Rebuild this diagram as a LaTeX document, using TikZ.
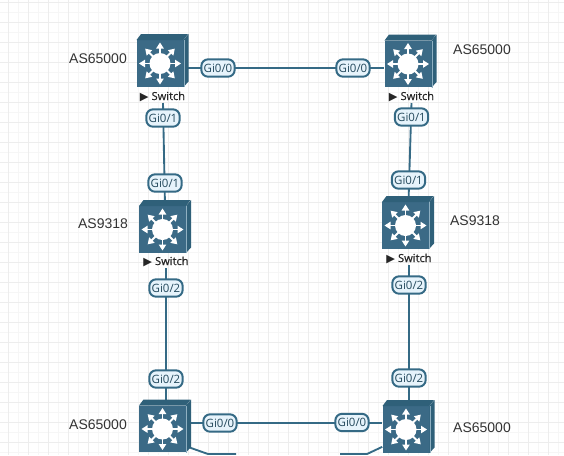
\documentclass[tikz,border=0pt]{standalone}
\usepackage{fontspec}
\setmainfont{Liberation Sans}
\newfontfamily\portfont{Open Sans}
\newfontfamily\swfont[FakeBold=0.6]{Open Sans}
\newfontfamily\symfont{DejaVu Sans}
\usepackage{tikz}
\usetikzlibrary{arrows.meta, backgrounds}
\definecolor{swblue}{HTML}{3B6A86}
\definecolor{swdark}{HTML}{2F6079}
\definecolor{swedge}{HTML}{8FB0C2}
\definecolor{linkblue}{HTML}{356A85}
\definecolor{portfill}{HTML}{E6F3FB}
\definecolor{gridminor}{HTML}{F6F6F6}
\definecolor{gridmajor}{HTML}{EDEDED}
\newcommand{\swlabel}{{\symfont\fontsize{8.5}{9}\selectfont ▶}\hspace{2.2pt}Switch}

\begin{document}
\begin{tikzpicture}[
  x=0.75pt, y=-0.75pt,
  swfront/.style={fill=swblue, minimum width=35.25pt, minimum height=35pt, inner sep=0pt},
  swname/.style={font=\swfont\fontsize{8.3}{10}\selectfont, text=black!85, inner sep=1pt},
  asname/.style={font=\fontsize{10.5}{12}\selectfont, text=black!80, inner sep=0pt},
  port/.style={draw=linkblue, line width=1.5pt, rounded corners=5pt, fill=portfill, minimum width=25pt, minimum height=13pt, inner sep=0pt, font=\portfont\fontsize{8.6}{10}\selectfont, text=linkblue!70!black},
  link/.style={draw=linkblue, line width=1.4pt},
  ray/.style={draw=white, line width=1.4pt, -{Triangle[length=4.5pt, width=5.5pt]}},
  pics/swdeco/.style={code={
    \fill[swdark] (-23.5,-23.5) -- (-19,-29.5) -- (28,-29.5) -- (23.5,-23.5) -- cycle;
    \fill[swdark] (23.5,-23.5) -- (28.5,-29.5) -- (28.5,18) -- (23.5,23.5) -- cycle;
    \draw[swedge, line width=0.5pt] (24,-23.5) -- (24,23.5);
    \foreach \a in {0,45,...,315}
      \draw[ray] (\a:9) -- (\a:21);
    \fill[white] (0,0) circle (10.5);
  }},
]
\useasboundingbox (0,0) rectangle (564,455);
% ---- switches
\node[swfront] (sw1) at (160,63.5) {};
\node[swfront] (sw2) at (408,64) {};
\node[swfront] (sw3) at (162.5,229.5) {};
\node[swfront] (sw4) at (405.5,225.5) {};
\node[swfront] (sw5) at (162.5,429) {};
\node[swfront] (sw6) at (406,429.5) {};
\foreach \s in {sw1,sw2,sw3,sw4,sw5,sw6}
  \pic at (\s) {swdeco};

\node[swname] (sn1) at (162.5,96.5) {\swlabel};
\node[swname] (sn2) at (411.5,96.5) {\swlabel};
\node[swname] (sn3) at (166,261.5) {\swlabel};
\node[swname] (sn4) at (409,258.5) {\swlabel};

\node[asname] (as1) at (98,58.5) {AS65000};
\node[asname] (as2) at (482,49.5) {AS65000};
\node[asname] (as3) at (103,223.5) {AS9318};
\node[asname] (as4) at (475,220.5) {AS9318};
\node[asname] (as5) at (98,424.5) {AS65000};
\node[asname] (as6) at (482,427.5) {AS65000};

% ---- ports
\node[port] (p1) at (218,68) {Gi0/0};
\node[port] (p2) at (353,68) {Gi0/0};
\node[port] (p3) at (163,118) {Gi0/1};
\node[port] (p4) at (165,183) {Gi0/1};
\node[port] (p5) at (411.5,117) {Gi0/1};
\node[port] (p6) at (408.5,180) {Gi0/1};
\node[port] (p7) at (166,288) {Gi0/2};
\node[port] (p8) at (166,379) {Gi0/2};
\node[port] (p9) at (409,285) {Gi0/2};
\node[port] (p10) at (409,378) {Gi0/2};
\node[port] (p11) at (220,423) {Gi0/0};
\node[port] (p12) at (352,422.5) {Gi0/0};

\coordinate (e1) at (208,454);
\coordinate (e2) at (236,454);
\coordinate (e3) at (367,454);
\coordinate (e4) at (340,454);

\begin{scope}[on background layer]
% ---- grid
\foreach \g in {8,18,...,558}
  \draw[gridminor, line width=0.75pt] (\g,0) -- (\g,455);
\foreach \g in {2,12,...,452}
  \draw[gridminor, line width=0.75pt] (0,\g) -- (564,\g);
\foreach \g in {8,28,...,548}
  \draw[gridmajor, line width=0.75pt] (\g,0) -- (\g,455);
\foreach \g in {2,22,...,442}
  \draw[gridmajor, line width=0.75pt] (0,\g) -- (564,\g);
% ---- links
\draw[link] (sw1.east |- p1) -- (sw2.west |- p1);
\draw[link] (sw5.east |- p11) -- (sw6.west |- p11);
\draw[link] (p3 |- sn1.south) -- (p4 |- sw3.north);
\draw[link] (p5 |- sn2.south) -- (p6 |- sw4.north);
\draw[link] (p7 |- sn3.south) -- (p8 |- sw5.north);
\draw[link] (p9 |- sn4.south) -- (p10 |- sw6.north);
\draw[link] ([yshift=-13pt]sw5.east) -- (e1) -- (e2);
\draw[link] ([yshift=-13pt]sw6.west) -- (e3) -- (e4);
\end{scope}
\end{tikzpicture}
\end{document}
